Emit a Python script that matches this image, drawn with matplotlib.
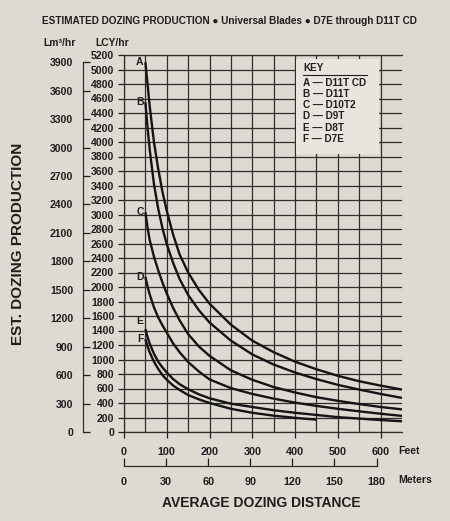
import matplotlib
matplotlib.use("Agg")
import matplotlib.pyplot as plt
from matplotlib.patches import Rectangle

plt.rcParams['font.family'] = ['Liberation Sans', 'DejaVu Sans']

# ---------------- data ----------------
dist_ft = [50, 55, 60, 70, 80, 90, 100, 115, 130, 150, 175, 200, 250, 300,
           350, 400, 450, 500, 550, 600, 650]
curve_A = [5100, 4800, 4500, 4000, 3630, 3310, 3050, 2720, 2450, 2200, 1960,
           1770, 1480, 1260, 1100, 970, 865, 775, 700, 640, 585]
curve_B = [4550, 4200, 3900, 3420, 3080, 2810, 2590, 2330, 2110, 1890, 1680,
           1510, 1260, 1070, 930, 820, 730, 650, 585, 525, 470]
curve_C = [3030, 2820, 2650, 2420, 2230, 2060, 1910, 1710, 1540, 1350, 1180,
           1050, 850, 720, 620, 545, 480, 430, 385, 345, 312]
curve_D = [2140, 2010, 1900, 1720, 1580, 1470, 1370, 1220, 1100, 965, 835,
           725, 605, 525, 460, 405, 360, 320, 285, 252, 222]
curve_E = [1420, 1310, 1220, 1080, 970, 890, 820, 730, 660, 590, 520,
           465, 390, 345, 300, 265, 235, 205, 185, 165, 148]
curve_F = [1280, 1180, 1100, 970, 870, 785, 720, 640, 580, 510, 450,
           400, 320, 265, 225, 195, 170]
curve_names = ["A", "B", "C", "D", "E", "F"]
curves = [curve_A, curve_B, curve_C, curve_D, curve_E, curve_F]
key_models = ["D11T CD", "D11T", "D10T2", "D9T", "D8T", "D7E"]

lcy_ticks = list(range(0, 5201, 200))
lm3_ticks = list(range(0, 3901, 300))
feet_ticks = list(range(0, 601, 100))
meter_ticks = list(range(0, 181, 30))

LM3_PER_LCY = 0.7646
M_PER_FT = 0.3048

# ---------------- figure ----------------
W, H = 450, 521
BG = '#dedad1'
INK = '#1e1e1e'
GRID = '#2e2e2e'
fig = plt.figure(figsize=(W / 100, H / 100), dpi=100, facecolor=BG)

def fx(px):
    return px / W

def fy(py):
    return 1 - py / H

ax = fig.add_axes([fx(124), fy(432), 278 / W, 377 / H])
ax.set_facecolor(BG)
ax.set_xlim(0, 650)
ax.set_ylim(0, 5200)
ax.set_axisbelow(True)

# grid
ax.set_xticks(feet_ticks)
ax.set_xticks(list(range(50, 601, 100)), minor=True)
ax.set_yticks(lcy_ticks)
ax.grid(True, which='both', color=GRID, lw=0.9)
ax.tick_params(axis='x', which='minor', length=0)
ax.tick_params(axis='x', which='major', length=4, width=0.9, color=INK,
               direction='out', pad=7, labelsize=7.8, labelcolor=INK)
ax.tick_params(axis='y', length=4, width=0.9, color=INK, direction='out',
               pad=3, labelsize=7.6, labelcolor=INK)
for lab in ax.get_xticklabels() + ax.get_yticklabels():
    lab.set_fontweight('bold')

for s in ['left', 'bottom', 'top']:
    ax.spines[s].set_color(GRID)
    ax.spines[s].set_linewidth(0.9)
ax.spines['right'].set_visible(False)

# key box
ax.add_patch(Rectangle((403, 3840), 194, 1310, facecolor='#e8e5de',
                       edgecolor='none', zorder=1.5))
kx = 419
ax.text(kx, 5021, "KEY", fontsize=7.2, fontweight='bold', color=INK,
        va='center', ha='left', zorder=3)
ax.plot([kx, 568], [4924, 4924], color=INK, lw=0.8, zorder=3)
for i, (n, m) in enumerate(zip(curve_names, key_models)):
    ax.text(kx, 4818 - i * 155, f"{n} \u2014 {m}", fontsize=7.2,
            fontweight='bold', color=INK, va='center', ha='left', zorder=3)

# curves
label_dy = [0, 0, 0, 0, 110, 0]
for name, vals, dy in zip(curve_names, curves, label_dy):
    xs = dist_ft[:len(vals)]
    ax.plot(xs, vals, color='#141414', lw=1.7, solid_capstyle='butt',
            solid_joinstyle='round', zorder=2)
    ax.text(xs[0] - 4, vals[0] + dy, name, fontsize=7.5, fontweight='bold',
            color=INK, ha='right', va='center', zorder=3)

# secondary Lm3 axis
sec_y = ax.secondary_yaxis(-0.1475, functions=(lambda v: v * LM3_PER_LCY,
                                               lambda v: v / LM3_PER_LCY))
sec_y.set_yticks(lm3_ticks)
sec_y.tick_params(length=5, width=0.9, color=INK, direction='in', pad=7,
                  labelsize=7.6, labelcolor=INK)
sec_y.spines['left'].set_bounds(0, 3900)
sec_y.spines['left'].set_color(GRID)
sec_y.spines['left'].set_linewidth(0.9)
for lab in sec_y.get_yticklabels():
    lab.set_fontweight('bold')

# secondary meters axis
sec_x = ax.secondary_xaxis(-0.09, functions=(lambda v: v * M_PER_FT,
                                             lambda v: v / M_PER_FT))
sec_x.set_xticks(meter_ticks)
sec_x.tick_params(length=6, width=0.9, color=INK, direction='in', pad=8,
                  labelsize=7.8, labelcolor=INK)
sec_x.spines['bottom'].set_bounds(0, 180)
sec_x.spines['bottom'].set_color(GRID)
sec_x.spines['bottom'].set_linewidth(0.9)
for lab in sec_x.get_xticklabels():
    lab.set_fontweight('bold')

# texts
fig.text(fx(229), fy(21), "ESTIMATED DOZING PRODUCTION \u25cf Universal Blades \u25cf D7E through D11T CD",
         ha='center', va='center', fontsize=7.2, fontweight='bold', color=INK)
fig.text(fx(60), fy(43), "Lm\u00b3/hr", ha='center', va='center', fontsize=7.4,
         fontweight='bold', color=INK)
fig.text(fx(112), fy(43), "LCY/hr", ha='center', va='center', fontsize=7.4,
         fontweight='bold', color=INK)
fig.text(fx(18), fy(244), "EST. DOZING PRODUCTION", rotation=90, ha='center',
         va='center', fontsize=11, fontweight='bold', color=INK)
fig.text(fx(398), fy(451), "Feet", ha='left', va='center', fontsize=7.6,
         fontweight='bold', color=INK)
fig.text(fx(398), fy(480), "Meters", ha='left', va='center', fontsize=7.6,
         fontweight='bold', color=INK)
fig.text(fx(261), fy(503), "AVERAGE DOZING DISTANCE", ha='center', va='center',
         fontsize=10, fontweight='bold', color=INK)

fig.savefig("out.png", dpi=100, facecolor=BG)
